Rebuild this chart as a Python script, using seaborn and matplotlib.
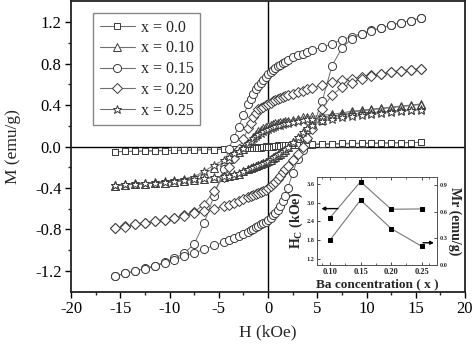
import numpy as np
import pandas as pd
import matplotlib
matplotlib.use("Agg")
import matplotlib.pyplot as plt
from matplotlib.lines import Line2D
import seaborn as sns

# ---------------- data ----------------
H = [-15.5, -14.5, -13.5, -12.5, -11.5, -10.5, -9.5, -8.5, -7.5, -6.5, -5.5, -4.5,
     -4.0, -3.5, -3.0, -2.5, -2.0, -1.75, -1.5, -1.25, -1.0, -0.75, -0.5, -0.25, 0.0,
     0.25, 0.5, 0.75, 1.0, 1.25, 1.5, 1.75, 2.0, 2.5, 3.0, 3.5, 4.0,
     4.5, 5.5, 6.5, 7.5, 8.5, 9.5, 10.5, 11.5, 12.5, 13.5, 14.5, 15.5]

labels = ["x = 0.0", "x = 0.10", "x = 0.15", "x = 0.20", "x = 0.25"]

# x = 0.0 (squares)
sq_up = [-0.050, -0.048, -0.046, -0.044, -0.042, -0.040, -0.038, -0.036, -0.034, -0.032, -0.029, -0.026,
         -0.024, -0.022, -0.020, -0.018, -0.015, -0.013, -0.011, -0.009, -0.006, -0.003, 0.000, 0.002, 0.004,
         0.006, 0.008, 0.009, 0.010, 0.011, 0.012, 0.012, 0.013, 0.014, 0.015, 0.016, 0.017,
         0.018, 0.020, 0.022, 0.024, 0.026, 0.028, 0.030, 0.032, 0.034, 0.036, 0.038, 0.040]
sq_dn = [-0.050, -0.048, -0.046, -0.044, -0.042, -0.040, -0.038, -0.036, -0.034, -0.032, -0.030, -0.028,
         -0.026, -0.024, -0.022, -0.020, -0.018, -0.016, -0.015, -0.013, -0.011, -0.010, -0.008, -0.006, -0.004,
         -0.002, 0.000, 0.003, 0.006, 0.008, 0.010, 0.012, 0.014, 0.017, 0.019, 0.021, 0.023,
         0.024, 0.026, 0.028, 0.030, 0.032, 0.033, 0.034, 0.035, 0.036, 0.037, 0.038, 0.040]

# x = 0.10 (triangles)
tr_up = [-0.380, -0.370, -0.365, -0.360, -0.355, -0.350, -0.340, -0.325, -0.300, -0.260, -0.210, -0.150,
         -0.120, -0.080, -0.050, -0.020, 0.035, 0.065, 0.095, 0.125, 0.145, 0.160, 0.175, 0.190, 0.200,
         0.210, 0.220, 0.225, 0.230, 0.235, 0.240, 0.245, 0.250, 0.260, 0.270, 0.280, 0.285,
         0.290, 0.300, 0.310, 0.325, 0.340, 0.350, 0.360, 0.370, 0.380, 0.390, 0.400, 0.410]
tr_dn = [-0.380, -0.370, -0.365, -0.360, -0.355, -0.350, -0.340, -0.330, -0.320, -0.310, -0.300, -0.290,
         -0.280, -0.275, -0.270, -0.240, -0.220, -0.210, -0.200, -0.190, -0.180, -0.170, -0.160, -0.150, -0.140,
         -0.130, -0.115, -0.100, -0.085, -0.070, -0.050, -0.030, 0.000, 0.040, 0.080, 0.130, 0.170,
         0.210, 0.260, 0.290, 0.310, 0.330, 0.345, 0.355, 0.365, 0.375, 0.385, 0.395, 0.405]

# x = 0.15 (circles)
ci_up = [-1.250, -1.225, -1.200, -1.175, -1.150, -1.115, -1.080, -1.030, -0.940, -0.740, -0.480, -0.220,
         -0.020, 0.080, 0.190, 0.300, 0.410, 0.460, 0.510, 0.550, 0.580, 0.610, 0.640, 0.670, 0.700,
         0.720, 0.740, 0.760, 0.775, 0.790, 0.805, 0.820, 0.835, 0.860, 0.880, 0.895, 0.910,
         0.930, 0.960, 0.990, 1.030, 1.060, 1.090, 1.120, 1.145, 1.170, 1.195, 1.215, 1.240]
ci_dn = [-1.250, -1.225, -1.200, -1.180, -1.155, -1.125, -1.095, -1.060, -1.030, -0.990, -0.955, -0.925,
         -0.905, -0.885, -0.865, -0.845, -0.825, -0.810, -0.795, -0.780, -0.765, -0.750, -0.740, -0.730, -0.710,
         -0.690, -0.665, -0.640, -0.610, -0.570, -0.530, -0.480, -0.400, -0.260, -0.120, -0.030, 0.070,
         0.180, 0.440, 0.780, 0.950, 1.040, 1.085, 1.115, 1.145, 1.170, 1.195, 1.215, 1.240]

# x = 0.20 (diamonds)
di_up = [-0.790, -0.770, -0.750, -0.735, -0.720, -0.705, -0.690, -0.665, -0.630, -0.560, -0.430, -0.290,
         -0.200, -0.110, -0.020, 0.070, 0.180, 0.230, 0.280, 0.320, 0.360, 0.375, 0.385, 0.400, 0.410,
         0.420, 0.435, 0.445, 0.455, 0.465, 0.475, 0.485, 0.495, 0.510, 0.525, 0.540, 0.555,
         0.565, 0.590, 0.620, 0.640, 0.655, 0.670, 0.690, 0.700, 0.720, 0.730, 0.740, 0.750]
di_dn = [-0.790, -0.775, -0.750, -0.735, -0.720, -0.705, -0.690, -0.670, -0.645, -0.620, -0.600, -0.575,
         -0.560, -0.545, -0.530, -0.510, -0.490, -0.480, -0.470, -0.460, -0.450, -0.440, -0.430, -0.415, -0.400,
         -0.380, -0.360, -0.340, -0.310, -0.280, -0.250, -0.220, -0.190, -0.130, -0.070, 0.000, 0.080,
         0.170, 0.360, 0.500, 0.570, 0.615, 0.650, 0.685, 0.700, 0.720, 0.730, 0.740, 0.750]

# x = 0.25 (stars)
st_up = [-0.370, -0.360, -0.355, -0.350, -0.345, -0.335, -0.325, -0.310, -0.290, -0.240, -0.180, -0.130,
         -0.100, -0.060, -0.040, -0.010, 0.030, 0.055, 0.080, 0.100, 0.120, 0.135, 0.150, 0.160, 0.170,
         0.180, 0.190, 0.200, 0.205, 0.210, 0.220, 0.225, 0.230, 0.240, 0.250, 0.260, 0.265,
         0.270, 0.280, 0.290, 0.300, 0.310, 0.320, 0.325, 0.335, 0.340, 0.350, 0.355, 0.360]
st_dn = [-0.370, -0.365, -0.360, -0.355, -0.350, -0.345, -0.335, -0.325, -0.315, -0.305, -0.295, -0.285,
         -0.280, -0.270, -0.260, -0.235, -0.215, -0.205, -0.195, -0.185, -0.175, -0.165, -0.155, -0.145, -0.135,
         -0.120, -0.105, -0.090, -0.075, -0.060, -0.040, -0.020, 0.000, 0.040, 0.090, 0.140, 0.180,
         0.210, 0.245, 0.265, 0.280, 0.290, 0.300, 0.310, 0.320, 0.330, 0.340, 0.350, 0.355]

# inset
ba_x = [0.10, 0.15, 0.20, 0.25]
hc_vals = [2.52, 3.67, 2.79, 2.80]
mr_vals = [0.28, 0.73, 0.41, 0.21]

# ---------------- style ----------------
sns.set_theme(style="ticks")
plt.rcParams["font.family"] = ["Liberation Serif", "DejaVu Serif"]
plt.rcParams["axes.unicode_minus"] = False
plt.rcParams["mathtext.fontset"] = "custom"
plt.rcParams["mathtext.rm"] = "Liberation Serif"
plt.rcParams["mathtext.bf"] = "Liberation Serif:bold"

fig = plt.figure(figsize=(4.74, 3.48), dpi=100)
ax = fig.add_axes([0.150, 0.162, 0.831, 0.834])

mcol = "#3a3a3a"
lcol = "#707070"
markers = ["s", "^", "o", "D", "*"]
msizes = [4.8, 5.3, 5.8, 4.8, 6.3]
series = [(sq_up, sq_dn), (tr_up, tr_dn), (ci_up, ci_dn), (di_up, di_dn), (st_up, st_dn)]

ax.axhline(0, color="black", lw=1.0, zorder=1)
ax.axvline(0, color="black", lw=1.0, zorder=1)

handles = []
for (up, dn), mk, ms, lab in zip(series, markers, msizes, labels):
    for branch in (up, dn):
        df = pd.DataFrame({"H": H, "M": branch})
        sns.lineplot(data=df, x="H", y="M", ax=ax, color=lcol, lw=0.7,
                     marker=mk, markersize=ms, markerfacecolor="white",
                     markeredgecolor=mcol, markeredgewidth=0.7,
                     estimator=None, sort=False, legend=False, zorder=3)
    handles.append(Line2D([], [], color=lcol, lw=0.8, marker=mk, markersize=ms,
                          markerfacecolor="white", markeredgecolor=mcol,
                          markeredgewidth=0.7, label=lab))

ax.set_xlim(-20, 20)
ax.set_ylim(-1.4, 1.4)
ax.set_xticks([-20, -15, -10, -5, 0, 5, 10, 15, 20])
ax.set_yticks([-1.2, -0.8, -0.4, 0.0, 0.4, 0.8, 1.2])
ax.set_yticklabels(["-1.2", "-0.8", "-0.4", "0.0", "0.4", "0.8", "1.2"])
ax.set_xticks([-17.5, -12.5, -7.5, -2.5, 2.5, 7.5, 12.5, 17.5], minor=True)
ax.set_yticks([-1.0, -0.6, -0.2, 0.2, 0.6, 1.0], minor=True)
ax.tick_params(axis="both", which="major", direction="out", length=4, width=1,
               labelsize=12, colors="black", pad=3)
ax.tick_params(axis="both", which="minor", direction="out", length=2.5, width=1)
for s in ax.spines.values():
    s.set_color("#222222")
    s.set_linewidth(1.3)
ax.set_xlabel("H (kOe)", fontsize=12.5, labelpad=5)
ax.set_ylabel("M (emu/g)", fontsize=12.5, labelpad=10)

leg = ax.legend(handles=handles, loc="upper left", bbox_to_anchor=(0.056, 0.959),
                borderaxespad=0, fontsize=11.5, frameon=True, fancybox=False,
                edgecolor="#888888", framealpha=1, handlelength=2.2,
                handletextpad=0.4, labelspacing=0.3, borderpad=0.4, numpoints=1)
leg.get_frame().set_linewidth(1.0)

# ---------------- inset ----------------
ins = fig.add_axes([0.669, 0.2385, 0.253, 0.253])
ins2 = ins.twinx()
sns.lineplot(x=ba_x, y=hc_vals, ax=ins, color="#777777", lw=0.8, marker="s",
             markersize=2.8, markerfacecolor="black", markeredgecolor="black",
             estimator=None, legend=False)
sns.lineplot(x=ba_x, y=mr_vals, ax=ins2, color="#777777", lw=0.8, marker="s",
             markersize=2.8, markerfacecolor="black", markeredgecolor="black",
             estimator=None, legend=False)
ins.set_xlim(0.079, 0.275)
ins.set_ylim(1.01, 3.82)
ins2.set_ylim(0.0, 0.99)
ins.set_xticks(ba_x)
ins.set_xticklabels(["0.10", "0.15", "0.20", "0.25"])
ins.set_xticks([0.0875, 0.125, 0.175, 0.225, 0.2625], minor=True)
ins.set_yticks([1.2, 1.8, 2.4, 3.0, 3.6])
ins2.set_yticks([0.0, 0.3, 0.6, 0.9])
ins.tick_params(axis="x", which="major", direction="in", length=2, width=0.6,
                labelsize=6, pad=2, top=True)
ins.tick_params(axis="x", which="minor", direction="in", length=1.2, width=0.5, top=True)
ins.tick_params(axis="y", which="major", direction="in", length=2, width=0.6,
                labelsize=4.5, pad=2)
ins2.tick_params(axis="y", which="major", direction="in", length=2, width=0.6,
                 labelsize=4.5, pad=2)
for lbl in ins.get_xticklabels() + ins.get_yticklabels() + ins2.get_yticklabels():
    lbl.set_fontweight("bold")
for a in (ins, ins2):
    for s in a.spines.values():
        s.set_color("#555555")
        s.set_linewidth(0.7)
ins.set_xlabel("Ba concentration ( x )", fontsize=9.5, fontweight="bold", labelpad=2)
ins.set_ylabel(r"$\mathbf{H_C}$ (kOe)", fontsize=10, fontweight="bold", labelpad=1)
ins2.set_ylabel("Mr (emu/g)", fontsize=10, fontweight="bold", rotation=270, labelpad=10)

ins.annotate("", xy=(0.086, 2.81), xytext=(0.113, 2.81),
             arrowprops=dict(arrowstyle="-|>", color="black", lw=1.0,
                             mutation_scale=5, shrinkA=0, shrinkB=0))
ins2.annotate("", xy=(0.27, 0.25), xytext=(0.252, 0.25),
              arrowprops=dict(arrowstyle="-|>", color="black", lw=1.0,
                              mutation_scale=5, shrinkA=0, shrinkB=0))

fig.savefig("out.png", dpi=100)
